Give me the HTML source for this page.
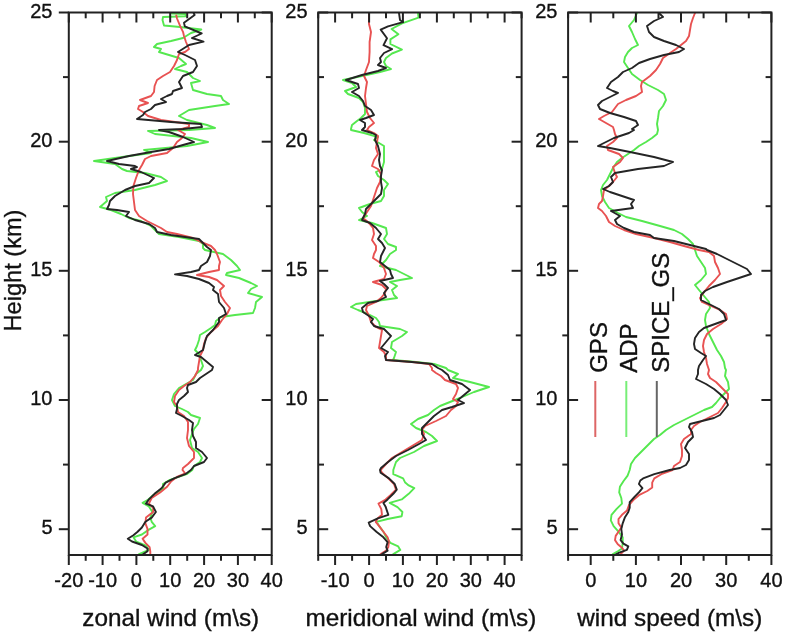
<!DOCTYPE html><html><head><meta charset="utf-8"><style>html,body{margin:0;padding:0;background:#fff;width:785px;height:633px;overflow:hidden}svg{display:block}text{font-family:"Liberation Sans",Arial,sans-serif;fill:#111;stroke:#111;stroke-width:0.35px}</style></head><body>
<svg width="785" height="633" viewBox="0 0 785 633">
<clipPath id="c1"><rect x="68.8" y="12.5" width="202.89999999999998" height="542.5"/></clipPath>
<clipPath id="c2"><rect x="318.2" y="12.5" width="203.40000000000003" height="542.5"/></clipPath>
<clipPath id="c3"><rect x="568.1" y="12.5" width="203.29999999999995" height="542.5"/></clipPath>
<polyline clip-path="url(#c1)" points="172.0,13.5 185.5,14.0 185.7,16.2 163.0,17.0 162.5,20.0 164.0,25.5 180.0,27.0 201.3,29.5 191.0,33.0 183.0,38.0 171.0,41.0 157.0,44.0 154.0,47.0 161.0,49.0 159.0,52.0 169.0,55.0 179.0,58.0 186.0,64.0 181.0,66.0 175.0,69.0 187.0,72.0 193.0,78.0 200.0,81.0 191.0,83.0 193.0,90.0 207.0,94.0 221.0,96.0 223.0,100.0 229.0,104.0 215.0,106.0 189.0,110.0 179.0,116.0 187.0,120.0 207.0,125.0 215.0,128.0 189.0,130.0 148.0,131.0 155.0,134.0 191.0,138.0 208.0,142.0 187.0,146.0 144.0,150.0 151.0,153.0 115.0,158.0 94.0,161.0 115.0,164.0 122.0,169.0 127.0,171.0 145.0,173.0 161.0,177.0 167.0,181.0 155.0,185.0 135.0,190.0 115.0,193.0 106.0,197.0 107.0,201.0 100.0,207.0 111.0,210.0 121.0,214.0 129.0,218.0 141.0,221.0 151.0,226.0 155.0,230.0 159.0,234.0 179.0,237.0 199.0,241.0 203.0,244.0 203.0,248.0 205.0,250.0 223.0,254.0 231.0,260.0 237.0,266.0 240.0,270.0 227.0,273.0 226.0,275.0 239.0,278.0 251.0,283.0 257.0,286.0 251.0,289.0 248.0,293.0 262.0,297.0 256.0,302.0 255.0,308.0 253.0,313.0 235.0,315.0 221.0,317.0 216.0,321.0 215.0,325.0 211.0,328.0 205.0,332.0 200.0,335.0 199.0,340.0 197.0,346.0 195.0,350.0 199.0,354.0 201.0,360.0 203.0,366.0 201.0,370.0 196.0,374.0 193.0,380.0 186.0,384.0 179.0,388.0 174.0,394.0 172.0,400.0 175.0,406.0 182.0,409.0 188.0,412.0 191.0,415.0 200.0,418.0 198.0,424.0 194.0,429.0 192.0,434.0 190.0,440.0 192.0,448.0 198.0,452.0 202.0,458.0 200.0,462.0 194.0,466.0 192.3,470.0 186.7,474.2 169.9,479.8 162.9,484.0 163.6,488.2 153.1,495.2 147.5,500.1 142.6,502.9 148.9,506.4 152.4,512.0 150.3,517.6 151.7,521.8 155.2,526.1 148.9,529.6 141.9,534.5 133.4,537.3 136.2,541.5 146.0,545.7 148.9,549.9 139.0,554.1 137.0,556.0" fill="none" stroke="#55e84f" stroke-width="1.9" stroke-linejoin="round" stroke-linecap="round"/>
<polyline clip-path="url(#c1)" points="176.3,15.5 177.0,18.5 180.3,26.4 183.0,31.8 184.0,36.0 186.0,42.0 189.0,49.0 185.0,52.0 179.0,54.0 177.0,60.0 174.0,66.0 170.0,72.0 163.0,76.0 157.0,80.0 154.6,86.0 154.0,92.0 151.0,96.0 140.0,100.0 148.0,103.0 139.0,106.0 138.0,109.0 143.0,112.0 148.0,116.0 161.0,120.0 189.0,124.0 189.0,127.0 178.0,130.0 185.0,134.0 182.0,138.0 177.0,142.0 173.0,148.0 167.0,153.0 151.0,156.0 145.0,159.0 142.0,165.0 139.0,170.0 136.0,178.0 133.4,186.0 133.0,194.0 134.0,202.0 135.0,210.0 139.0,216.0 147.0,221.0 153.0,224.0 161.0,228.0 167.0,232.0 177.0,234.0 193.0,238.0 201.0,242.0 211.0,246.0 215.0,250.0 217.0,254.0 220.0,262.0 219.0,266.0 219.0,270.0 209.0,272.0 197.0,275.0 209.0,277.0 217.0,280.0 224.0,286.0 220.0,290.0 221.0,296.0 225.0,302.0 230.0,308.0 227.0,314.0 222.0,320.0 218.0,326.0 211.0,332.0 206.0,338.0 204.0,344.0 203.0,350.0 200.0,356.0 199.0,362.0 198.0,368.0 198.0,370.0 195.0,376.0 190.0,382.0 184.0,386.0 179.0,390.0 175.0,396.0 174.0,402.0 177.0,406.0 178.0,412.0 184.0,416.0 188.0,422.0 188.0,430.0 187.0,438.0 189.0,446.0 194.0,452.0 194.0,458.0 188.0,464.0 183.0,468.0 182.5,470.0 185.3,473.5 176.9,477.0 171.3,481.2 167.1,486.8 160.1,492.4 151.7,498.0 148.9,503.6 153.1,507.8 153.1,512.0 146.0,517.6 145.4,523.3 147.5,528.9 147.5,534.5 142.6,538.7 145.4,542.9 149.6,547.1 150.3,551.3 150.3,556.0" fill="none" stroke="#e85252" stroke-width="1.9" stroke-linejoin="round" stroke-linecap="round"/>
<polyline clip-path="url(#c1)" points="193.7,13.0 194.6,15.0 184.0,22.8 184.8,26.4 201.7,33.5 192.0,38.0 203.5,41.6 189.0,45.0 178.0,52.0 185.0,55.0 195.0,60.0 197.0,66.0 193.0,72.0 183.0,76.0 179.0,82.0 182.0,88.0 173.0,91.0 172.0,94.0 167.0,96.0 161.0,99.0 166.0,102.0 155.0,105.0 151.0,109.0 145.0,112.0 143.0,115.0 137.0,119.0 171.0,122.0 201.0,124.0 202.0,127.0 183.0,129.0 159.0,130.0 169.0,132.0 183.0,137.0 194.0,142.0 183.0,145.0 169.0,149.0 151.0,152.0 129.0,156.0 107.0,161.0 119.0,164.0 135.0,166.0 137.0,167.0 131.0,169.0 141.0,172.0 154.0,178.0 149.0,183.0 135.0,186.0 125.0,190.0 115.0,196.0 110.0,201.0 109.0,205.0 107.0,209.0 117.0,210.0 129.0,212.0 126.0,216.0 135.0,220.0 149.0,224.0 155.0,228.0 157.0,232.0 171.0,235.0 199.0,239.0 203.0,243.0 207.0,247.0 211.0,250.0 210.0,256.0 207.0,262.0 201.0,266.0 199.0,270.0 191.0,272.0 175.0,274.4 187.0,276.0 199.0,279.0 209.0,283.0 214.0,287.0 213.0,290.0 218.0,294.0 219.0,302.0 224.0,308.0 226.0,314.0 219.0,318.0 219.0,322.0 216.0,326.0 213.0,330.0 207.0,336.0 205.0,342.0 203.0,350.0 195.0,355.0 201.0,357.0 207.0,362.0 213.0,367.0 212.0,370.0 206.0,374.0 200.0,378.0 196.0,382.0 188.0,385.0 187.0,388.0 188.0,392.0 184.0,396.0 179.0,400.0 177.0,404.0 177.0,409.0 176.0,413.0 182.0,416.0 189.0,420.0 193.0,423.0 192.0,430.0 193.0,436.0 196.0,442.0 196.0,448.0 202.0,452.0 207.0,458.0 204.0,462.0 194.0,466.0 190.9,470.0 185.3,474.2 174.1,478.4 165.7,482.6 161.5,488.2 154.5,493.8 148.9,499.4 146.0,503.6 153.1,506.4 155.9,512.0 151.7,517.6 145.4,521.8 141.9,527.5 137.6,531.7 133.4,535.2 127.8,538.7 132.0,541.5 141.9,545.0 147.5,548.5 147.5,551.3 143.3,554.1 141.0,556.0" fill="none" stroke="#252525" stroke-width="1.9" stroke-linejoin="round" stroke-linecap="round"/>
<polyline clip-path="url(#c2)" points="418.0,13.0 418.5,17.6 402.0,23.3 391.6,29.0 398.4,34.2 390.4,39.4 390.4,44.0 401.9,49.7 392.0,53.5 386.0,58.0 384.0,62.0 386.0,66.0 391.0,69.0 380.0,72.0 362.0,76.0 343.0,80.0 352.0,83.0 356.0,87.0 345.0,91.0 348.0,94.0 359.0,98.0 363.0,102.0 365.0,108.0 365.0,114.0 361.0,118.0 357.0,121.0 352.0,125.0 351.0,129.0 351.0,130.0 364.0,133.0 378.0,137.0 374.0,140.0 384.0,146.0 384.0,154.0 384.0,162.0 382.0,169.0 376.0,172.0 378.0,176.0 384.0,180.0 388.0,184.0 384.0,190.0 384.0,196.0 381.0,201.0 370.0,204.0 359.0,208.0 362.0,212.0 367.0,216.0 359.0,220.0 372.0,223.0 386.0,228.0 387.0,234.0 384.0,239.0 388.0,244.0 396.0,247.0 396.0,250.0 390.0,254.0 386.0,260.0 380.0,266.0 396.0,270.0 406.0,275.0 412.0,278.0 400.0,280.0 390.0,282.0 397.0,286.0 392.0,290.0 394.0,295.0 397.0,298.0 376.0,301.0 356.0,304.0 351.0,307.0 358.0,310.0 368.0,314.0 376.0,318.0 379.0,322.0 380.0,326.0 400.0,329.0 407.0,332.0 402.0,336.0 392.0,342.0 391.0,348.0 396.0,352.0 394.0,358.0 393.0,360.0 416.0,362.0 434.0,364.0 446.0,368.0 448.0,370.0 458.0,374.0 453.0,378.0 470.0,382.0 489.0,387.0 474.0,392.0 460.0,398.0 450.0,402.0 440.0,406.0 434.0,410.0 428.0,415.0 418.0,419.0 411.0,424.0 416.0,428.0 426.0,432.0 432.0,436.0 437.0,441.0 424.0,446.0 414.0,452.0 400.0,458.0 396.0,462.0 393.3,470.0 393.3,474.2 403.1,478.4 405.2,482.6 408.7,485.4 414.3,488.2 408.7,493.8 401.7,499.4 389.7,502.9 397.5,507.1 402.4,512.0 401.7,516.2 387.6,519.0 376.4,521.8 379.2,526.1 383.4,531.7 386.2,537.3 390.4,542.9 398.2,546.4 400.3,549.9 393.3,554.1 392.0,556.0" fill="none" stroke="#55e84f" stroke-width="1.9" stroke-linejoin="round" stroke-linecap="round"/>
<polyline clip-path="url(#c2)" points="369.0,13.0 369.0,15.0 369.0,24.0 371.0,32.0 369.6,42.0 369.6,52.0 369.0,62.0 366.0,70.0 364.0,76.0 367.0,82.0 366.0,88.0 365.0,96.0 366.0,104.0 367.0,112.0 370.0,118.0 374.0,123.0 369.0,127.0 367.0,130.0 374.0,133.0 378.0,136.0 377.0,142.0 376.0,148.0 378.0,154.0 374.0,160.0 372.0,166.0 378.0,169.0 381.0,174.0 380.0,182.0 377.0,188.0 375.0,194.0 373.0,200.0 371.0,206.0 367.0,212.0 363.0,218.0 368.0,222.0 373.0,228.0 374.0,234.0 372.0,240.0 376.0,246.0 376.0,250.0 374.0,254.0 373.0,258.0 379.0,262.0 384.0,268.0 386.0,274.0 384.0,279.0 373.0,282.0 382.0,285.0 386.0,289.0 385.0,293.0 381.0,298.0 376.0,302.0 367.0,306.0 366.0,310.0 369.0,316.0 371.0,322.0 376.0,327.0 382.0,330.0 381.0,336.0 380.0,342.0 379.0,348.0 384.0,352.0 386.0,356.0 386.0,360.0 412.0,362.0 429.0,364.0 432.0,368.0 432.0,370.0 436.0,373.0 441.0,376.0 445.0,380.0 456.0,384.0 458.0,388.0 456.0,394.0 453.0,399.0 458.0,402.0 456.0,406.0 451.0,410.0 446.0,416.0 436.0,421.0 425.0,426.0 422.0,430.0 424.0,434.0 422.0,440.0 412.0,446.0 402.0,452.0 392.0,458.0 386.0,464.0 380.6,470.0 382.0,472.8 388.3,478.4 394.0,484.0 396.0,489.6 390.4,495.2 384.8,500.1 378.5,503.6 381.3,509.2 382.0,514.8 377.8,518.3 375.7,521.8 379.2,526.1 383.4,531.7 387.6,537.3 389.0,541.5 388.3,547.1 386.2,550.6 380.6,554.1 379.0,556.0" fill="none" stroke="#e85252" stroke-width="1.9" stroke-linejoin="round" stroke-linecap="round"/>
<polyline clip-path="url(#c2)" points="399.0,13.0 400.0,20.0 403.0,22.2 388.0,26.3 380.7,29.6 387.0,38.2 383.5,45.1 392.1,49.1 384.0,53.0 380.0,58.0 381.0,62.0 378.0,65.0 386.0,68.0 378.0,71.0 362.0,75.0 346.0,80.0 358.0,84.0 359.0,88.0 352.0,92.0 359.0,96.0 363.0,101.0 365.0,106.0 371.0,110.0 374.0,115.0 366.0,118.0 360.0,120.0 365.0,123.0 365.0,127.0 362.0,130.0 372.0,133.0 376.0,135.0 375.0,140.0 378.0,146.0 380.0,154.0 379.0,160.0 380.0,166.0 382.0,170.0 381.0,176.0 381.0,182.0 382.0,188.0 381.0,194.0 376.0,199.0 371.0,204.0 366.0,209.0 365.0,214.0 362.0,220.0 370.0,223.0 376.0,228.0 381.0,234.0 378.0,239.0 382.0,243.0 385.0,248.0 384.0,250.0 381.0,256.0 380.0,262.0 385.0,266.0 390.0,270.0 391.0,274.0 393.0,278.0 380.0,281.0 384.0,284.0 388.0,288.0 384.0,293.0 386.0,297.0 378.0,301.0 368.0,303.0 362.0,308.0 363.0,312.0 369.0,316.0 373.0,319.0 371.0,322.0 374.0,326.0 384.0,329.0 391.0,336.0 386.0,342.0 381.0,348.0 388.0,352.0 385.0,356.0 386.0,360.0 412.0,362.0 432.0,364.0 438.0,368.0 442.0,370.0 448.0,375.0 450.0,380.0 462.0,384.0 470.0,390.0 464.0,395.0 458.0,400.0 464.0,403.0 452.0,407.0 442.0,410.0 434.0,416.0 428.0,422.0 422.0,428.0 422.0,434.0 426.0,440.0 419.0,444.0 408.0,450.0 396.0,456.0 388.0,462.0 381.0,468.0 380.0,470.0 380.6,472.8 389.0,478.4 394.7,484.0 396.8,489.6 393.3,493.8 387.6,499.4 383.4,502.9 385.5,506.4 386.9,510.6 388.3,514.8 377.8,518.3 368.7,522.6 370.1,526.1 376.4,531.7 383.4,537.3 387.6,542.2 386.2,547.1 387.6,550.6 382.0,554.1 380.0,556.0" fill="none" stroke="#252525" stroke-width="1.9" stroke-linejoin="round" stroke-linecap="round"/>
<polyline clip-path="url(#c3)" points="637.0,11.0 637.0,13.0 634.0,20.0 629.0,26.0 632.0,32.0 635.0,39.0 638.0,45.0 632.0,48.0 628.0,52.0 625.0,57.0 624.0,62.0 628.0,68.0 632.0,74.0 640.0,80.0 648.0,85.0 658.0,90.0 664.0,94.0 666.0,100.0 663.0,106.0 659.0,111.0 658.0,118.0 657.0,124.0 658.0,130.0 657.0,134.0 652.0,138.0 646.0,142.0 639.0,146.0 634.0,150.0 628.0,154.0 622.0,158.0 617.0,162.0 613.0,168.0 610.0,174.0 607.0,180.0 603.0,185.0 601.0,190.0 602.0,196.0 605.0,202.0 609.0,208.0 618.0,213.0 626.0,217.0 642.0,221.0 660.0,226.0 674.0,230.0 682.0,234.0 688.0,239.0 693.0,244.0 695.0,249.0 695.0,250.0 697.0,256.0 701.0,262.0 705.0,268.0 706.0,274.0 701.0,280.0 695.0,285.0 699.0,290.0 704.0,296.0 709.0,302.0 710.0,308.0 706.0,314.0 705.0,320.0 706.0,326.0 709.0,334.0 713.0,342.0 717.0,350.0 721.0,356.0 724.0,362.0 725.0,368.0 726.0,370.0 725.0,376.0 728.0,382.0 729.0,389.0 725.0,393.0 720.0,398.0 716.0,403.0 712.0,407.0 704.0,410.0 694.0,415.0 684.0,420.0 674.0,425.0 666.0,430.0 660.0,435.0 654.0,439.0 648.0,445.0 642.0,451.0 635.0,458.0 631.0,464.0 629.7,470.0 627.6,475.6 623.4,481.2 619.9,486.8 619.2,492.4 621.3,498.0 622.0,503.6 616.4,509.2 611.5,514.8 610.8,520.4 613.6,526.1 618.5,531.7 622.7,537.3 622.7,542.9 622.0,548.5 617.8,551.3 612.9,554.1 611.0,556.0" fill="none" stroke="#55e84f" stroke-width="1.9" stroke-linejoin="round" stroke-linecap="round"/>
<polyline clip-path="url(#c3)" points="696.0,11.0 695.0,13.0 693.0,18.0 691.0,24.0 690.0,30.0 689.0,36.0 686.0,41.0 681.0,45.0 676.0,49.0 670.0,53.0 663.0,58.0 660.0,64.0 656.0,70.0 650.0,76.0 642.0,82.0 641.0,86.0 642.0,92.0 636.0,96.0 626.0,100.0 618.0,104.0 615.0,108.0 612.0,112.0 604.0,116.0 599.0,119.0 606.0,123.0 613.0,127.0 614.0,130.0 615.0,134.0 617.0,138.0 613.0,142.0 607.0,146.0 608.0,150.0 619.0,154.0 623.0,158.0 620.0,162.0 613.0,167.0 615.0,173.0 617.0,177.0 613.0,182.0 609.0,186.0 604.0,190.0 603.0,196.0 602.0,201.0 599.0,204.0 598.0,208.0 602.0,211.0 606.0,216.0 609.0,222.0 615.0,226.0 624.0,230.0 636.0,234.0 654.0,238.0 670.0,242.0 684.0,246.0 699.0,250.0 709.0,252.0 714.0,256.0 715.0,262.0 718.0,268.0 720.0,274.0 715.0,280.0 709.0,286.0 704.0,292.0 700.0,298.0 702.0,302.0 711.0,306.0 720.0,310.0 726.0,314.0 727.0,319.0 721.0,324.0 713.0,329.0 707.0,334.0 704.0,340.0 703.0,346.0 704.0,352.0 706.0,358.0 707.0,364.0 709.0,370.0 708.0,374.0 710.0,378.0 716.0,382.0 722.0,388.0 728.0,394.0 728.0,398.0 726.0,402.0 722.0,408.0 718.0,413.0 708.0,418.0 700.0,422.0 694.0,426.0 691.0,430.0 691.0,434.0 684.0,439.0 681.0,444.0 682.0,450.0 682.0,456.0 680.0,462.0 674.0,466.0 672.5,470.0 661.3,474.2 654.3,478.4 652.2,482.6 652.2,487.5 647.3,491.0 638.9,495.2 633.3,500.1 629.0,505.0 627.0,510.6 622.0,514.8 618.5,519.0 618.5,523.3 621.3,527.5 618.5,531.7 615.7,535.9 615.0,540.1 617.8,544.3 622.0,547.8 624.1,550.6 620.6,554.1 619.0,556.0" fill="none" stroke="#e85252" stroke-width="1.9" stroke-linejoin="round" stroke-linecap="round"/>
<polyline clip-path="url(#c3)" points="659.0,11.0 659.0,13.0 663.0,17.0 654.0,21.0 647.0,26.0 649.0,32.0 654.0,37.0 664.0,41.0 676.0,45.0 684.0,49.0 679.0,52.0 664.0,55.0 650.0,59.0 639.0,63.0 632.0,68.0 623.0,72.0 618.0,77.0 611.0,82.0 607.0,88.0 613.0,91.0 618.0,93.0 610.0,97.0 602.0,101.0 598.0,105.0 600.0,109.0 610.0,113.0 624.0,117.0 636.0,121.0 638.0,125.0 632.0,129.0 634.0,130.0 629.0,133.0 614.0,138.0 606.0,142.0 598.0,146.0 610.0,148.0 630.0,152.0 654.0,157.0 673.0,162.0 664.0,166.0 638.0,169.0 615.0,173.0 611.0,177.0 613.0,182.0 609.0,186.0 603.0,189.0 610.0,192.0 622.0,196.0 634.0,200.0 631.0,204.0 633.0,208.0 611.0,211.0 620.0,216.0 615.0,220.0 617.0,224.0 624.0,228.0 634.0,232.0 650.0,235.0 654.0,238.0 674.0,241.0 690.0,245.0 706.0,249.0 707.0,250.0 717.0,254.0 725.0,258.0 737.0,264.0 747.0,269.0 751.0,274.0 739.0,278.0 727.0,282.0 713.0,287.0 705.0,291.0 701.0,295.0 701.0,300.0 709.0,304.0 719.0,309.0 724.0,314.0 726.0,320.0 715.0,324.0 704.0,328.0 699.0,332.0 695.0,338.0 694.0,344.0 695.0,349.0 701.0,353.0 706.0,356.0 703.0,360.0 699.0,366.0 698.0,370.0 698.0,374.0 696.0,379.0 706.0,384.0 714.0,389.0 720.0,394.0 726.0,400.0 728.0,405.0 724.0,410.0 720.0,415.0 714.0,418.0 702.0,421.0 690.0,424.0 689.0,427.0 692.0,432.0 693.0,437.0 688.0,442.0 685.0,448.0 689.0,454.0 689.0,460.0 686.0,465.0 680.0,468.0 669.7,470.0 654.3,474.2 643.1,478.4 640.3,480.5 638.9,484.0 642.4,488.2 638.9,492.4 634.7,496.6 629.7,502.2 629.7,507.8 628.3,512.0 624.8,517.6 622.7,523.3 621.3,528.9 622.0,534.5 620.6,540.1 623.4,543.6 628.3,546.4 626.9,549.9 619.2,552.7 615.0,554.8 613.0,556.0" fill="none" stroke="#252525" stroke-width="1.9" stroke-linejoin="round" stroke-linecap="round"/>
<rect x="68.8" y="12.5" width="202.89999999999998" height="542.5" fill="none" stroke="#222" stroke-width="2"/>
<line x1="68.8" y1="12.5" x2="68.8" y2="22.5" stroke="#222" stroke-width="2"/>
<line x1="68.8" y1="555.0" x2="68.8" y2="565.0" stroke="#222" stroke-width="2"/>
<text x="68.8" y="586.5" font-size="20" text-anchor="middle">-20</text>
<line x1="85.7" y1="12.5" x2="85.7" y2="18.3" stroke="#222" stroke-width="2"/>
<line x1="85.7" y1="555.0" x2="85.7" y2="560.8" stroke="#222" stroke-width="2"/>
<line x1="102.6" y1="12.5" x2="102.6" y2="22.5" stroke="#222" stroke-width="2"/>
<line x1="102.6" y1="555.0" x2="102.6" y2="565.0" stroke="#222" stroke-width="2"/>
<text x="102.6" y="586.5" font-size="20" text-anchor="middle">-10</text>
<line x1="119.5" y1="12.5" x2="119.5" y2="18.3" stroke="#222" stroke-width="2"/>
<line x1="119.5" y1="555.0" x2="119.5" y2="560.8" stroke="#222" stroke-width="2"/>
<line x1="136.4" y1="12.5" x2="136.4" y2="22.5" stroke="#222" stroke-width="2"/>
<line x1="136.4" y1="555.0" x2="136.4" y2="565.0" stroke="#222" stroke-width="2"/>
<text x="136.4" y="586.5" font-size="20" text-anchor="middle">0</text>
<line x1="153.3" y1="12.5" x2="153.3" y2="18.3" stroke="#222" stroke-width="2"/>
<line x1="153.3" y1="555.0" x2="153.3" y2="560.8" stroke="#222" stroke-width="2"/>
<line x1="170.2" y1="12.5" x2="170.2" y2="22.5" stroke="#222" stroke-width="2"/>
<line x1="170.2" y1="555.0" x2="170.2" y2="565.0" stroke="#222" stroke-width="2"/>
<text x="170.2" y="586.5" font-size="20" text-anchor="middle">10</text>
<line x1="187.2" y1="12.5" x2="187.2" y2="18.3" stroke="#222" stroke-width="2"/>
<line x1="187.2" y1="555.0" x2="187.2" y2="560.8" stroke="#222" stroke-width="2"/>
<line x1="204.1" y1="12.5" x2="204.1" y2="22.5" stroke="#222" stroke-width="2"/>
<line x1="204.1" y1="555.0" x2="204.1" y2="565.0" stroke="#222" stroke-width="2"/>
<text x="204.1" y="586.5" font-size="20" text-anchor="middle">20</text>
<line x1="221.0" y1="12.5" x2="221.0" y2="18.3" stroke="#222" stroke-width="2"/>
<line x1="221.0" y1="555.0" x2="221.0" y2="560.8" stroke="#222" stroke-width="2"/>
<line x1="237.9" y1="12.5" x2="237.9" y2="22.5" stroke="#222" stroke-width="2"/>
<line x1="237.9" y1="555.0" x2="237.9" y2="565.0" stroke="#222" stroke-width="2"/>
<text x="237.9" y="586.5" font-size="20" text-anchor="middle">30</text>
<line x1="254.8" y1="12.5" x2="254.8" y2="18.3" stroke="#222" stroke-width="2"/>
<line x1="254.8" y1="555.0" x2="254.8" y2="560.8" stroke="#222" stroke-width="2"/>
<line x1="271.7" y1="12.5" x2="271.7" y2="22.5" stroke="#222" stroke-width="2"/>
<line x1="271.7" y1="555.0" x2="271.7" y2="565.0" stroke="#222" stroke-width="2"/>
<text x="271.7" y="586.5" font-size="20" text-anchor="middle">40</text>
<line x1="58.8" y1="529.2" x2="68.8" y2="529.2" stroke="#222" stroke-width="2"/>
<line x1="261.7" y1="529.2" x2="271.7" y2="529.2" stroke="#222" stroke-width="2"/>
<text x="52.5" y="534.4" font-size="20" text-anchor="end">5</text>
<line x1="63.0" y1="464.6" x2="68.8" y2="464.6" stroke="#222" stroke-width="2"/>
<line x1="265.9" y1="464.6" x2="271.7" y2="464.6" stroke="#222" stroke-width="2"/>
<line x1="58.8" y1="400.0" x2="68.8" y2="400.0" stroke="#222" stroke-width="2"/>
<line x1="261.7" y1="400.0" x2="271.7" y2="400.0" stroke="#222" stroke-width="2"/>
<text x="52.5" y="405.2" font-size="20" text-anchor="end">10</text>
<line x1="63.0" y1="335.4" x2="68.8" y2="335.4" stroke="#222" stroke-width="2"/>
<line x1="265.9" y1="335.4" x2="271.7" y2="335.4" stroke="#222" stroke-width="2"/>
<line x1="58.8" y1="270.8" x2="68.8" y2="270.8" stroke="#222" stroke-width="2"/>
<line x1="261.7" y1="270.8" x2="271.7" y2="270.8" stroke="#222" stroke-width="2"/>
<text x="52.5" y="276.0" font-size="20" text-anchor="end">15</text>
<line x1="63.0" y1="206.2" x2="68.8" y2="206.2" stroke="#222" stroke-width="2"/>
<line x1="265.9" y1="206.2" x2="271.7" y2="206.2" stroke="#222" stroke-width="2"/>
<line x1="58.8" y1="141.7" x2="68.8" y2="141.7" stroke="#222" stroke-width="2"/>
<line x1="261.7" y1="141.7" x2="271.7" y2="141.7" stroke="#222" stroke-width="2"/>
<text x="52.5" y="146.9" font-size="20" text-anchor="end">20</text>
<line x1="63.0" y1="77.1" x2="68.8" y2="77.1" stroke="#222" stroke-width="2"/>
<line x1="265.9" y1="77.1" x2="271.7" y2="77.1" stroke="#222" stroke-width="2"/>
<line x1="58.8" y1="12.5" x2="68.8" y2="12.5" stroke="#222" stroke-width="2"/>
<line x1="261.7" y1="12.5" x2="271.7" y2="12.5" stroke="#222" stroke-width="2"/>
<text x="52.5" y="17.7" font-size="20" text-anchor="end">25</text>
<rect x="318.2" y="12.5" width="203.40000000000003" height="542.5" fill="none" stroke="#222" stroke-width="2"/>
<line x1="318.2" y1="12.5" x2="318.2" y2="18.3" stroke="#222" stroke-width="2"/>
<line x1="318.2" y1="555.0" x2="318.2" y2="560.8" stroke="#222" stroke-width="2"/>
<line x1="335.1" y1="12.5" x2="335.1" y2="22.5" stroke="#222" stroke-width="2"/>
<line x1="335.1" y1="555.0" x2="335.1" y2="565.0" stroke="#222" stroke-width="2"/>
<text x="335.1" y="586.5" font-size="20" text-anchor="middle">-10</text>
<line x1="352.1" y1="12.5" x2="352.1" y2="18.3" stroke="#222" stroke-width="2"/>
<line x1="352.1" y1="555.0" x2="352.1" y2="560.8" stroke="#222" stroke-width="2"/>
<line x1="369.1" y1="12.5" x2="369.1" y2="22.5" stroke="#222" stroke-width="2"/>
<line x1="369.1" y1="555.0" x2="369.1" y2="565.0" stroke="#222" stroke-width="2"/>
<text x="369.1" y="586.5" font-size="20" text-anchor="middle">0</text>
<line x1="386.0" y1="12.5" x2="386.0" y2="18.3" stroke="#222" stroke-width="2"/>
<line x1="386.0" y1="555.0" x2="386.0" y2="560.8" stroke="#222" stroke-width="2"/>
<line x1="402.9" y1="12.5" x2="402.9" y2="22.5" stroke="#222" stroke-width="2"/>
<line x1="402.9" y1="555.0" x2="402.9" y2="565.0" stroke="#222" stroke-width="2"/>
<text x="402.9" y="586.5" font-size="20" text-anchor="middle">10</text>
<line x1="419.9" y1="12.5" x2="419.9" y2="18.3" stroke="#222" stroke-width="2"/>
<line x1="419.9" y1="555.0" x2="419.9" y2="560.8" stroke="#222" stroke-width="2"/>
<line x1="436.9" y1="12.5" x2="436.9" y2="22.5" stroke="#222" stroke-width="2"/>
<line x1="436.9" y1="555.0" x2="436.9" y2="565.0" stroke="#222" stroke-width="2"/>
<text x="436.9" y="586.5" font-size="20" text-anchor="middle">20</text>
<line x1="453.8" y1="12.5" x2="453.8" y2="18.3" stroke="#222" stroke-width="2"/>
<line x1="453.8" y1="555.0" x2="453.8" y2="560.8" stroke="#222" stroke-width="2"/>
<line x1="470.8" y1="12.5" x2="470.8" y2="22.5" stroke="#222" stroke-width="2"/>
<line x1="470.8" y1="555.0" x2="470.8" y2="565.0" stroke="#222" stroke-width="2"/>
<text x="470.8" y="586.5" font-size="20" text-anchor="middle">30</text>
<line x1="487.7" y1="12.5" x2="487.7" y2="18.3" stroke="#222" stroke-width="2"/>
<line x1="487.7" y1="555.0" x2="487.7" y2="560.8" stroke="#222" stroke-width="2"/>
<line x1="504.6" y1="12.5" x2="504.6" y2="22.5" stroke="#222" stroke-width="2"/>
<line x1="504.6" y1="555.0" x2="504.6" y2="565.0" stroke="#222" stroke-width="2"/>
<text x="504.6" y="586.5" font-size="20" text-anchor="middle">40</text>
<line x1="521.6" y1="12.5" x2="521.6" y2="18.3" stroke="#222" stroke-width="2"/>
<line x1="521.6" y1="555.0" x2="521.6" y2="560.8" stroke="#222" stroke-width="2"/>
<line x1="318.2" y1="529.2" x2="328.2" y2="529.2" stroke="#222" stroke-width="2"/>
<line x1="511.6" y1="529.2" x2="521.6" y2="529.2" stroke="#222" stroke-width="2"/>
<text x="307.6" y="534.4" font-size="20" text-anchor="end">5</text>
<line x1="318.2" y1="464.6" x2="324.0" y2="464.6" stroke="#222" stroke-width="2"/>
<line x1="515.8000000000001" y1="464.6" x2="521.6" y2="464.6" stroke="#222" stroke-width="2"/>
<line x1="318.2" y1="400.0" x2="328.2" y2="400.0" stroke="#222" stroke-width="2"/>
<line x1="511.6" y1="400.0" x2="521.6" y2="400.0" stroke="#222" stroke-width="2"/>
<text x="307.6" y="405.2" font-size="20" text-anchor="end">10</text>
<line x1="318.2" y1="335.4" x2="324.0" y2="335.4" stroke="#222" stroke-width="2"/>
<line x1="515.8000000000001" y1="335.4" x2="521.6" y2="335.4" stroke="#222" stroke-width="2"/>
<line x1="318.2" y1="270.8" x2="328.2" y2="270.8" stroke="#222" stroke-width="2"/>
<line x1="511.6" y1="270.8" x2="521.6" y2="270.8" stroke="#222" stroke-width="2"/>
<text x="307.6" y="276.0" font-size="20" text-anchor="end">15</text>
<line x1="318.2" y1="206.2" x2="324.0" y2="206.2" stroke="#222" stroke-width="2"/>
<line x1="515.8000000000001" y1="206.2" x2="521.6" y2="206.2" stroke="#222" stroke-width="2"/>
<line x1="318.2" y1="141.7" x2="328.2" y2="141.7" stroke="#222" stroke-width="2"/>
<line x1="511.6" y1="141.7" x2="521.6" y2="141.7" stroke="#222" stroke-width="2"/>
<text x="307.6" y="146.9" font-size="20" text-anchor="end">20</text>
<line x1="318.2" y1="77.1" x2="324.0" y2="77.1" stroke="#222" stroke-width="2"/>
<line x1="515.8000000000001" y1="77.1" x2="521.6" y2="77.1" stroke="#222" stroke-width="2"/>
<line x1="318.2" y1="12.5" x2="328.2" y2="12.5" stroke="#222" stroke-width="2"/>
<line x1="511.6" y1="12.5" x2="521.6" y2="12.5" stroke="#222" stroke-width="2"/>
<text x="307.6" y="17.7" font-size="20" text-anchor="end">25</text>
<rect x="568.1" y="12.5" width="203.29999999999995" height="542.5" fill="none" stroke="#222" stroke-width="2"/>
<line x1="568.1" y1="12.5" x2="568.1" y2="18.3" stroke="#222" stroke-width="2"/>
<line x1="568.1" y1="555.0" x2="568.1" y2="560.8" stroke="#222" stroke-width="2"/>
<line x1="590.7" y1="12.5" x2="590.7" y2="22.5" stroke="#222" stroke-width="2"/>
<line x1="590.7" y1="555.0" x2="590.7" y2="565.0" stroke="#222" stroke-width="2"/>
<text x="590.7" y="586.5" font-size="20" text-anchor="middle">0</text>
<line x1="613.3" y1="12.5" x2="613.3" y2="18.3" stroke="#222" stroke-width="2"/>
<line x1="613.3" y1="555.0" x2="613.3" y2="560.8" stroke="#222" stroke-width="2"/>
<line x1="635.9" y1="12.5" x2="635.9" y2="22.5" stroke="#222" stroke-width="2"/>
<line x1="635.9" y1="555.0" x2="635.9" y2="565.0" stroke="#222" stroke-width="2"/>
<text x="635.9" y="586.5" font-size="20" text-anchor="middle">10</text>
<line x1="658.5" y1="12.5" x2="658.5" y2="18.3" stroke="#222" stroke-width="2"/>
<line x1="658.5" y1="555.0" x2="658.5" y2="560.8" stroke="#222" stroke-width="2"/>
<line x1="681.0" y1="12.5" x2="681.0" y2="22.5" stroke="#222" stroke-width="2"/>
<line x1="681.0" y1="555.0" x2="681.0" y2="565.0" stroke="#222" stroke-width="2"/>
<text x="681.0" y="586.5" font-size="20" text-anchor="middle">20</text>
<line x1="703.6" y1="12.5" x2="703.6" y2="18.3" stroke="#222" stroke-width="2"/>
<line x1="703.6" y1="555.0" x2="703.6" y2="560.8" stroke="#222" stroke-width="2"/>
<line x1="726.2" y1="12.5" x2="726.2" y2="22.5" stroke="#222" stroke-width="2"/>
<line x1="726.2" y1="555.0" x2="726.2" y2="565.0" stroke="#222" stroke-width="2"/>
<text x="726.2" y="586.5" font-size="20" text-anchor="middle">30</text>
<line x1="748.8" y1="12.5" x2="748.8" y2="18.3" stroke="#222" stroke-width="2"/>
<line x1="748.8" y1="555.0" x2="748.8" y2="560.8" stroke="#222" stroke-width="2"/>
<line x1="771.4" y1="12.5" x2="771.4" y2="22.5" stroke="#222" stroke-width="2"/>
<line x1="771.4" y1="555.0" x2="771.4" y2="565.0" stroke="#222" stroke-width="2"/>
<text x="771.4" y="586.5" font-size="20" text-anchor="middle">40</text>
<line x1="568.1" y1="529.2" x2="578.1" y2="529.2" stroke="#222" stroke-width="2"/>
<line x1="761.4" y1="529.2" x2="771.4" y2="529.2" stroke="#222" stroke-width="2"/>
<text x="557.5" y="534.4" font-size="20" text-anchor="end">5</text>
<line x1="562.3000000000001" y1="464.6" x2="568.1" y2="464.6" stroke="#222" stroke-width="2"/>
<line x1="765.6" y1="464.6" x2="771.4" y2="464.6" stroke="#222" stroke-width="2"/>
<line x1="568.1" y1="400.0" x2="578.1" y2="400.0" stroke="#222" stroke-width="2"/>
<line x1="761.4" y1="400.0" x2="771.4" y2="400.0" stroke="#222" stroke-width="2"/>
<text x="557.5" y="405.2" font-size="20" text-anchor="end">10</text>
<line x1="562.3000000000001" y1="335.4" x2="568.1" y2="335.4" stroke="#222" stroke-width="2"/>
<line x1="765.6" y1="335.4" x2="771.4" y2="335.4" stroke="#222" stroke-width="2"/>
<line x1="568.1" y1="270.8" x2="578.1" y2="270.8" stroke="#222" stroke-width="2"/>
<line x1="761.4" y1="270.8" x2="771.4" y2="270.8" stroke="#222" stroke-width="2"/>
<text x="557.5" y="276.0" font-size="20" text-anchor="end">15</text>
<line x1="562.3000000000001" y1="206.2" x2="568.1" y2="206.2" stroke="#222" stroke-width="2"/>
<line x1="765.6" y1="206.2" x2="771.4" y2="206.2" stroke="#222" stroke-width="2"/>
<line x1="568.1" y1="141.7" x2="578.1" y2="141.7" stroke="#222" stroke-width="2"/>
<line x1="761.4" y1="141.7" x2="771.4" y2="141.7" stroke="#222" stroke-width="2"/>
<text x="557.5" y="146.9" font-size="20" text-anchor="end">20</text>
<line x1="562.3000000000001" y1="77.1" x2="568.1" y2="77.1" stroke="#222" stroke-width="2"/>
<line x1="765.6" y1="77.1" x2="771.4" y2="77.1" stroke="#222" stroke-width="2"/>
<line x1="568.1" y1="12.5" x2="578.1" y2="12.5" stroke="#222" stroke-width="2"/>
<line x1="761.4" y1="12.5" x2="771.4" y2="12.5" stroke="#222" stroke-width="2"/>
<text x="557.5" y="17.7" font-size="20" text-anchor="end">25</text>
<text x="170.7" y="625.6" font-size="24.3" text-anchor="middle">zonal wind (m\s)</text>
<text x="420.9" y="625.6" font-size="24.3" text-anchor="middle">meridional wind (m\s)</text>
<text x="669.8" y="625.6" font-size="24.3" text-anchor="middle">wind speed (m\s)</text>
<text transform="translate(21,270.5) rotate(-90)" font-size="23.6" text-anchor="middle">Height (km)</text>
<text transform="translate(606.6,372.8) rotate(-90)" font-size="24">GPS</text>
<text transform="translate(636.6,372.8) rotate(-90)" font-size="24">ADP</text>
<text transform="translate(668.7,372.8) rotate(-90)" font-size="24">SPICE_GS</text>
<line x1="595.3" y1="381" x2="595.3" y2="437" stroke="#d66" stroke-width="2"/>
<line x1="626.3" y1="381" x2="626.3" y2="437" stroke="#7e7" stroke-width="2"/>
<line x1="656.8" y1="381" x2="656.8" y2="437" stroke="#666" stroke-width="2"/>
</svg></body></html>
